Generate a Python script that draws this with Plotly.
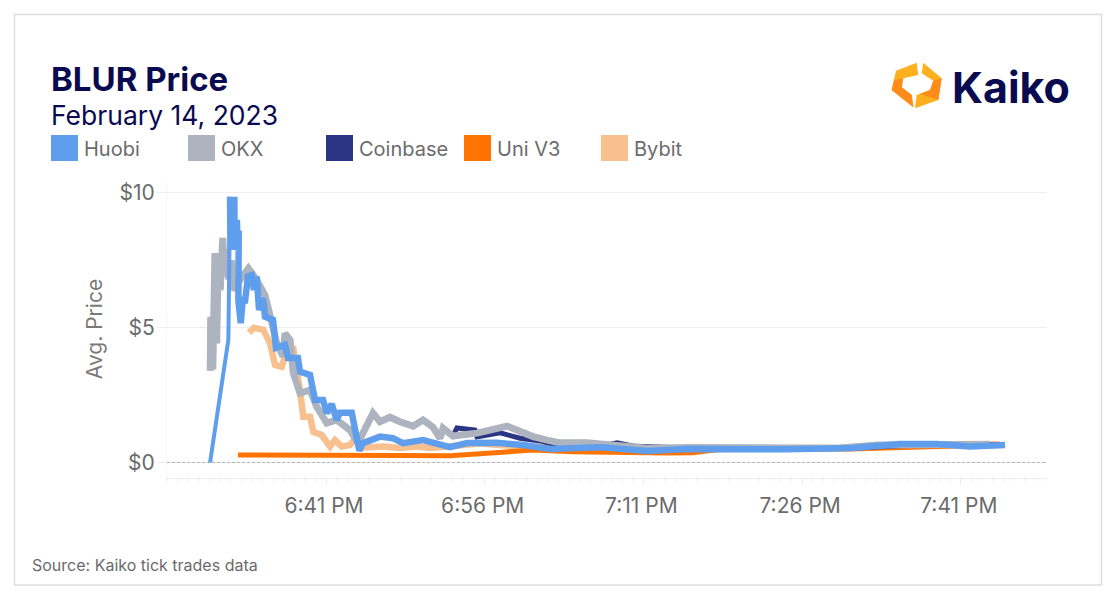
import pandas as pd
import plotly.graph_objects as go

# --- DATA: minutes after 6:00 PM and average price in USD ---
HUOBI_MIN = [30.04, 31.77, 31.93, 31.98, 32.03, 32.08, 32.13, 32.18, 32.23, 32.28, 32.33, 32.38, 32.43, 32.5, 32.58, 32.65, 32.75, 32.72, 32.94,
             33.15, 33.32, 33.63, 33.98, 34.19, 34.45, 34.67, 35.05, 35.23, 35.99, 36.27, 37.12, 37.41,
             38.35, 38.54, 39.49, 39.96, 40.72, 41.07, 41.54, 42.01, 42.32, 43.43, 44.15, 44.5, 45.32,
             46.1, 47.33, 48.28, 50.17, 52.72, 54.33, 57.16, 59.62, 62.17, 66.9, 71.34, 75.12, 78.24,
             84.57, 90.81, 95.25, 98.75, 101.87, 105.18]
HUOBI_VAL = [0, 4.55, 9.86, 7.9, 9.86, 8.2, 9.86, 8.0, 9.86, 8.1, 9.86, 7.9, 9.7, 8.0, 9.0, 7.9, 8.6, 6.0, 5.17,
             6.15, 5.9, 6.9, 6.95, 6.4, 6.9, 5.66, 6.1, 5.41, 5.29, 4.25, 4.36, 3.88,
             3.88, 3.37, 3.25, 2.32, 2.32, 1.83, 2.17, 1.58, 1.85, 1.85, 0.44, 0.72, 0.83,
             0.96, 0.9, 0.72, 0.83, 0.57, 0.72, 0.73, 0.65, 0.5, 0.57, 0.43, 0.5, 0.48,
             0.49, 0.54, 0.69, 0.69, 0.59, 0.65]

OKX_MIN = [30.06, 30.1, 30.14, 30.18, 30.22, 30.26, 30.3, 30.34, 30.38, 30.42, 30.46, 30.5, 30.55, 30.67, 30.75, 30.85, 31.0, 31.1, 31.24, 31.4, 31.6, 31.8, 32.09, 32.18,
           32.87, 33.66, 34.45, 35.23, 35.7, 36.34, 36.94, 37.12, 37.6, 37.91, 38.54, 39.49, 40.12,
           41.07, 42.01, 43.27, 44.02, 44.69, 45.44, 46.1, 47.05, 47.99, 49.22, 50.17, 51.11, 51.78,
           52.06, 53.0, 55.27, 58.11, 60.57, 61.89, 63.12, 65.67, 68.13, 71.34, 75.4, 78.24, 81.36,
           89.3, 93.08, 98.75, 103.76]
OKX_VAL = [3.4, 5.4, 3.4, 5.3, 3.4, 5.2, 3.45, 5.4, 3.5, 5.3, 3.6, 7.77, 5.0, 4.42, 6.2, 6.8, 6.4, 7.3, 8.33, 6.9, 7.9, 6.8, 7.5, 6.4,
           6.8, 7.2, 6.77, 6.2, 5.47, 4.42, 3.93, 4.79, 4.55, 3.31, 2.57, 2.69, 2.07,
           1.46, 1.58, 1.2, 0.72, 1.27, 1.83, 1.51, 1.68, 1.51, 1.35, 1.58, 1.31, 0.9,
           1.27, 0.98, 1.09, 1.35, 0.96, 0.83, 0.73, 0.73, 0.65, 0.53, 0.56, 0.55, 0.56,
           0.53, 0.65, 0.7, 0.68]

COINBASE_MIN = [53.0, 53.38, 55.08, 55.27, 57.45, 59.34, 61.23, 62.46, 66.9, 68.5, 70.21, 78.24, 90.53, 99.0, 104.7]
COINBASE_VAL = [1.0, 1.28, 1.2, 0.95, 1.1, 0.9, 0.8, 0.68, 0.6, 0.73, 0.6, 0.5, 0.53, 0.7, 0.65]

UNI_MIN = [32.68, 40.43, 47.99, 52.72, 55.84, 60.57, 64.35, 70.02, 73.23, 75.69, 78.24, 90.53, 104.7]
UNI_VAL = [0.28, 0.25, 0.26, 0.25, 0.35, 0.46, 0.4, 0.35, 0.35, 0.36, 0.49, 0.5, 0.66]

BYBIT_MIN = [33.72, 34.19, 35.07, 35.7, 36.18, 36.81, 37.12, 37.88, 38.54, 38.85, 39.49, 39.8, 40.59, 41.38,
             41.85, 42.48, 43.27, 43.9, 44.4, 46.39, 47.99, 49.6, 50.83, 52.25, 55.56, 59.34, 63.12,
             71.62, 78.24, 90.53, 99.03, 104.7]
BYBIT_VAL = [4.82, 5.0, 4.92, 4.43, 3.62, 3.55, 3.93, 4.3, 2.69, 1.7, 1.7, 1.14, 1.02, 0.59,
             0.83, 0.59, 0.65, 0.96, 0.55, 0.59, 0.54, 0.59, 0.54, 0.6, 0.7, 0.6, 0.55,
             0.45, 0.5, 0.55, 0.68, 0.68]

X_RANGE_MIN = [25.97, 109.15]
X_TICK_MIN = [41, 56, 71, 86, 101]
X_TICK_TEXT = ["6:41 PM", "6:56 PM", "7:11 PM", "7:26 PM", "7:41 PM"]
Y_TICK_VALS = [0, 5, 10]
Y_TICK_TEXT = ["$0", "$5", "$10"]

# drawing order is bottom to top, the legend reads the other way
SERIES = [
    ("Bybit", BYBIT_MIN, BYBIT_VAL, "#F7C08E", 6.5),
    ("Uni V3", UNI_MIN, UNI_VAL, "#FF7300", 5),
    ("Coinbase", COINBASE_MIN, COINBASE_VAL, "#2A3684", 5),
    ("OKX", OKX_MIN, OKX_VAL, "#ADB4BF", 7),
    ("Huobi", HUOBI_MIN[2:], HUOBI_VAL[2:], "#5F9EEC", 6.5),
]
LEGEND_NAMES = ["Huobi", "OKX", "Coinbase", "Uni V3", "Bybit"]
LEGEND_COLORS = ["#5F9EEC", "#ADB4BF", "#2A3684", "#FF7300", "#F7C08E"]
LEGEND_X = [51, 188, 326, 464, 601]

NAVY = "#0A0A50"
GREY_TEXT = "#6B6B6B"
FONT = "Inter"
W, H = 1116, 600
PLOT_L, PLOT_R, PLOT_T, PLOT_B = 167, 1047, 180, 478


def to_time(minutes):
    return pd.Timestamp("2023-02-14 18:00") + pd.to_timedelta(minutes, unit="m")


def px(x):
    return (x - PLOT_L) / (PLOT_R - PLOT_L)


def py(y):
    return (PLOT_B - y) / (PLOT_B - PLOT_T)


def poly(points):
    return "M " + " L ".join(f"{px(a):.4f},{py(b):.4f}" for a, b in points) + " Z"


fig = go.Figure()

# dashed baseline at $0
fig.add_trace(go.Scatter(
    x=to_time(pd.Series(X_RANGE_MIN)), y=[0, 0], mode="lines",
    line=dict(color="#B5B5B5", width=1, dash="3px,2px"), showlegend=False, hoverinfo="skip",
))

for name, mins, vals, color, width in SERIES:
    fig.add_trace(go.Scatter(
        x=to_time(pd.Series(mins)), y=vals, mode="lines", name=name,
        line=dict(color=color, width=width), showlegend=False, hoverinfo="skip",
    ))

# the first Huobi leg is a single clean jump, so it reads thinner than the rest
fig.add_trace(go.Scatter(
    x=to_time(pd.Series(HUOBI_MIN[:3])), y=HUOBI_VAL[:3], mode="lines", name="Huobi",
    line=dict(color="#5F9EEC", width=4), showlegend=False, hoverinfo="skip",
))

shapes = [
    dict(type="rect", xref="paper", yref="paper", x0=px(14.5), x1=px(1101.5), y0=py(14.5), y1=py(585),
         line=dict(color="#DEDEDE", width=1.5), fillcolor="rgba(0,0,0,0)", layer="below"),
]

# logo mark
LOGO_PIECES = [
    ([(916.7, 62.7), (896, 70.7), (891.7, 90), (913.3, 107.3), (911.7, 95), (901.7, 87.3), (903.3, 78.3), (918.3, 75)], "#FFB01F"),
    ([(923.3, 62.7), (941.7, 78.3), (938.3, 100), (915, 108.3), (916.7, 95), (930, 90), (933.3, 80.7), (921.7, 73.3)], "#FFB01F"),
    ([(894, 80), (903.3, 78.3), (901.7, 87.3), (911.7, 95), (913.3, 107.3), (891.7, 90)], "#FF8C1A"),
    ([(941.7, 78.3), (933.3, 80.7), (930, 90), (920, 94), (938.3, 100)], "#FF8C1A"),
]
for pts, color in LOGO_PIECES:
    shapes.append(dict(type="path", xref="paper", yref="paper", path=poly(pts), fillcolor=color, line=dict(width=0)))

annotations = [
    dict(text="BLUR Price", x=px(51), y=py(79), font=dict(family=FONT, size=33, color=NAVY, weight=700)),
    dict(text="February 14, 2023", x=px(51), y=py(115), font=dict(family=FONT, size=26.5, color=NAVY)),
    dict(text="Kaiko", x=px(952), y=py(87), font=dict(family=FONT, size=43, color=NAVY, weight=700)),
    dict(text="Source: Kaiko tick trades data", x=px(32), y=py(565), font=dict(family=FONT, size=16, color=GREY_TEXT)),
]

# legend: big square swatches
for name, color, x0 in zip(LEGEND_NAMES, LEGEND_COLORS, LEGEND_X):
    shapes.append(dict(type="rect", xref="paper", yref="paper", x0=px(x0), x1=px(x0 + 27), y0=py(161), y1=py(135),
                       fillcolor=color, line=dict(width=0)))
    annotations.append(dict(text=name, x=px(x0 + 33), y=py(149), font=dict(family=FONT, size=20, color=GREY_TEXT)))

for a in annotations:
    a.update(xref="paper", yref="paper", xanchor="left", yanchor="middle", showarrow=False, xshift=-2)

fig.update_layout(
    width=W, height=H,
    margin=dict(l=PLOT_L, r=W - PLOT_R, t=PLOT_T, b=H - PLOT_B, autoexpand=False),
    paper_bgcolor="white", plot_bgcolor="white",
    shapes=shapes, annotations=annotations,
    showlegend=False,
    xaxis=dict(
        type="date",
        range=[to_time(X_RANGE_MIN[0]), to_time(X_RANGE_MIN[1])],
        tickvals=[to_time(m) for m in X_TICK_MIN], ticktext=X_TICK_TEXT,
        ticks="outside", ticklen=6, tickcolor="#EDEDED", tickwidth=1,
        minor=dict(ticks="outside", ticklen=2, dtick=60000, tickcolor="#EDEDED", showgrid=False),
        showgrid=False, zeroline=False, showline=True, linecolor="#EDEDED", linewidth=1,
        ticklabelstandoff=3, ticklabelshift=-2,
        tickfont=dict(family=FONT, size=21, color=GREY_TEXT),
    ),
    yaxis=dict(
        range=[-0.575, 10.48],
        tickvals=Y_TICK_VALS, ticktext=Y_TICK_TEXT,
        ticks="outside", ticklen=9, tickcolor="#EEEEEE", tickwidth=1,
        showgrid=True, gridcolor="#EEEEEE", gridwidth=1, zeroline=False,
        showline=True, linecolor="#F6F6F6", linewidth=1,
        ticklabelstandoff=-2,
        tickfont=dict(family=FONT, size=21, color=GREY_TEXT),
        title=dict(text="Avg. Price", font=dict(family=FONT, size=21, color="#7A7A7A"), standoff=11),
    ),
)

# drop the default page margin so the figure fills the window
fig.write_html("out.html", config={"displayModeBar": False}, post_script="document.body.style.margin='0';")
